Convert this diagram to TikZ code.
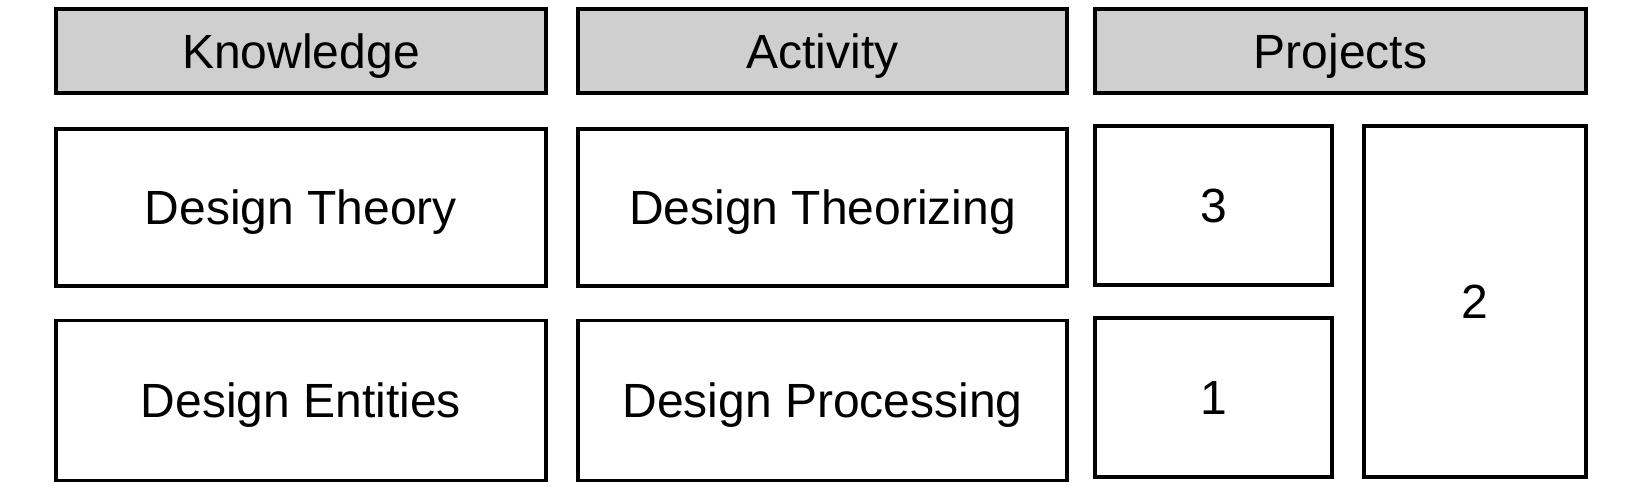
\documentclass[tikz,border=0pt]{standalone}
\usepackage{fontspec}
\setmainfont{Liberation Sans}
\definecolor{hdrgray}{RGB}{208,207,208}
\tikzset{
  px/.style={x=0.75pt,y=-0.75pt},
  cell/.style 2 args={draw=black, line width=2.3pt, fill=white, inner sep=0pt,
    minimum width=#1*0.75pt, minimum height=#2*0.75pt,
    text height=25.8pt, text depth=0pt,
    font=\fontsize{36}{43}\selectfont, text=black},
  hdr/.style={fill=hdrgray}
}
\begin{document}
\begin{tikzpicture}[px]
\useasboundingbox (0,0) rectangle (1625,491);
% headers
\node[cell={490}{84}, hdr] (kh) at (301,51) {Knowledge};
\node[cell={489}{84}, hdr] (ah) at (822.5,51) {Activity};
\node[cell={491}{84}, hdr] (ph) at (1340.5,51) {Projects};
% row 1
\node[cell={490}{157}] (dt) at (301,207.5) {Design Theory};
\node[cell={489}{157}] (dtz) at (822.5,207.5) {Design Theorizing};
\node[cell={237}{159}] (b3) at (1213.5,205.5) {3};
% project 2 spans both rows
\node[cell={222}{351}] (b2) at (1475,301.5) {2};
% row 2
\node[cell={490}{160}] (de) at (301,400.5) {Design Entities};
\node[cell={489}{160}] (dp) at (822.5,400.5) {Design Processing};
\node[cell={237}{159}] (b1) at (1213.5,397.5) {1};
\end{tikzpicture}
\end{document}
